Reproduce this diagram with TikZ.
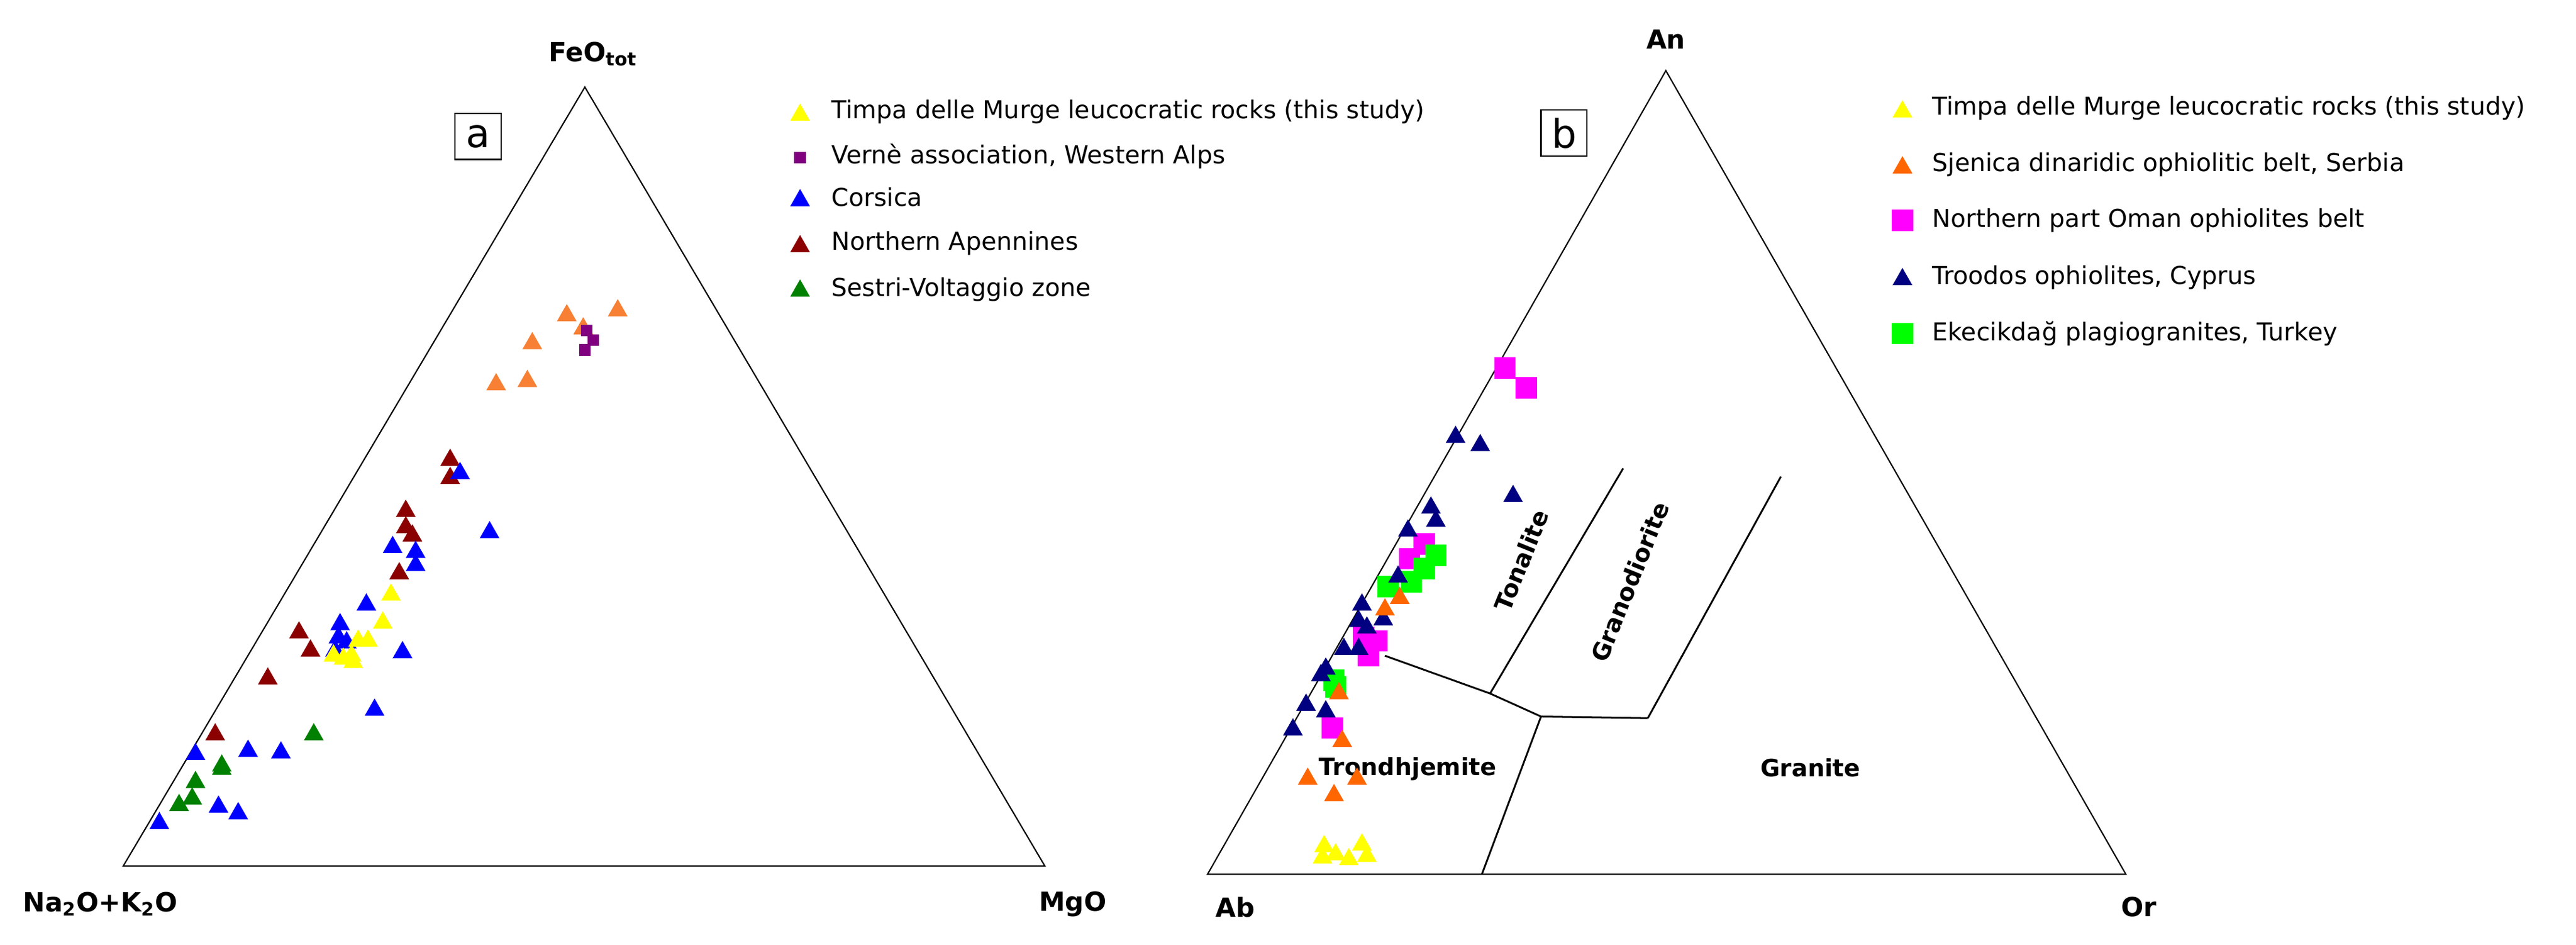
\documentclass[tikz,border=0pt]{standalone}
\usepackage{fontspec}
\setmainfont{DejaVu Sans}
\begin{document}
\begin{tikzpicture}[x=1pt,y=-1pt,
  tri/.style={line width=0.8pt},
  axlab/.style={font=\fontsize{16}{18}\selectfont\bfseries},
  leg/.style={anchor=west,font=\fontsize{15}{17}\selectfont,inner sep=0},
  field/.style={font=\fontsize{14.5}{16}\selectfont\bfseries},
  boxlab/.style={draw,line width=0.8pt,font=\fontsize{24}{26}\selectfont,inner sep=2pt,minimum width=28pt,minimum height=28pt}]
\definecolor{cyel}{RGB}{255,255,0}
\definecolor{cor}{RGB}{247,128,52}
\definecolor{cpur}{RGB}{128,0,128}
\definecolor{cblu}{RGB}{0,0,255}
\definecolor{cdr}{RGB}{139,0,0}
\definecolor{cgr}{RGB}{0,128,0}
\definecolor{csrb}{RGB}{255,102,0}
\definecolor{cmag}{RGB}{255,0,255}
\definecolor{cnav}{RGB}{0,0,128}
\definecolor{clim}{RGB}{0,255,0}
\useasboundingbox (0,0) rectangle (1568,575);
\fill[white] (0,0) rectangle (1568,575);
\newcommand\tri[3]{\fill[#1] (#2-6,#3+4.5) -- (#2+6,#3+4.5) -- (#2,#3-6) -- cycle;}
\newcommand\sqs[3]{\fill[#1] (#2-3.5,#3-3.5) rectangle (#2+3.5,#3+3.5);}
\newcommand\sqb[3]{\fill[#1] (#2-6.5,#3-6.5) rectangle (#2+6.5,#3+6.5);}
% ---------- panel a ----------
\coordinate (aA) at (75,527); \coordinate (aB) at (636,527); \coordinate (aC) at (356,53);
\draw[tri] (aA) -- (aB) -- (aC) -- cycle;
\node[axlab] (lfe) at (361,33) {FeO\textsubscript{tot}};
\node[axlab] (lna) at (61,550) {Na\textsubscript{2}O+K\textsubscript{2}O};
\node[axlab] (lmg) at (653,550) {MgO};
\node[boxlab] (ba) at (291,83) {a};
\foreach \x/\y in {345/191,355/199,376/188,324/208,302/233,321/231}{\tri{cor}{\x}{\y}}
\foreach \x/\y in {357/201,361/207,356/213}{\sqs{cpur}{\x}{\y}}
\foreach \x/\y in {274/279,274/290,247/310,247/320,251/325,243/348,182/384,189/395,163/412,131/446}{\tri{cdr}{\x}{\y}}
\foreach \x/\y in {280/287,298/323,239/332,253/335,253/343,223/367,207/379,206/387,211/390,204/395,245/396,228/431,119/458,151/456,171/457,133/490,145/494,97/500}{\tri{cblu}{\x}{\y}}
\foreach \x/\y in {238/361,233/378,224/389,218/389,214/398,209/400,203/398,215/402}{\tri{cyel}{\x}{\y}}
\foreach \x/\y in {191/446,135/465,135/467,119/475,117/485,109/489}{\tri{cgr}{\x}{\y}}
% legend a
\tri{cyel}{487}{69}
\sqs{cpur}{487}{96}
\tri{cblu}{487}{121}
\tri{cdr}{487}{149}
\tri{cgr}{487}{176}
\node[leg] (la1) at (506,68) {Timpa delle Murge leucocratic rocks (this study)};
\node[leg] (la2) at (506,95) {Vernè association, Western Alps};
\node[leg] (la3) at (506,120) {Corsica};
\node[leg] (la4) at (506,148) {Northern Apennines};
\node[leg] (la5) at (506,176) {Sestri-Voltaggio zone};
% ---------- panel b ----------
\coordinate (bA) at (735,532); \coordinate (bB) at (1294,532); \coordinate (bC) at (1014,43);
\draw[tri] (bA) -- (bB) -- (bC) -- cycle;
\node[axlab] (lan) at (1014,24) {An};
\node[axlab] (lab) at (752,552) {Ab};
\node[axlab] (lor) at (1302,552) {Or};
\node[boxlab] (bb) at (952,81) {b};
\coordinate (p1) at (843,399); \coordinate (p2) at (907,422); \coordinate (p3) at (938,436);
\coordinate (p4) at (1003,437); \coordinate (p5) at (988,285); \coordinate (p6) at (1084,290);
\coordinate (p7) at (902,532);
\draw[line width=1.1pt] (p1) -- (p2) -- (p3) -- (p4);
\draw[line width=1.1pt] (p2) -- (p5);
\draw[line width=1.1pt] (p4) -- (p6);
\draw[line width=1.1pt] (p3) -- (p7);
\node[field,rotate=68] (ton) at (926,341) {Tonalite};
\node[field,rotate=68] (gra) at (992,354) {Granodiorite};
\node[field] (tro) at (857,468) {Trondhjemite};
\node[field] (grn) at (1102,467) {Granite};
\foreach \x/\y in {916/224,929/236,867/331,858/340,830/388,838/390,833/399,811/443}{\sqb{cmag}{\x}{\y}}
\foreach \x/\y in {874/338,867/346,859/354,845/357,812/414,813/418}{\sqb{clim}{\x}{\y}}
\foreach \x/\y in {886/265,901/270,921/301,871/308,874/316,857/322,851/350,829/367,827/377,842/376,832/381,818/394,827/394,807/406,804/410,795/428,807/432,787/443}{\tri{cnav}{\x}{\y}}
\foreach \x/\y in {852/363,843/370,815/421,817/450,796/473,826/473,812/483}{\tri{csrb}{\x}{\y}}
\foreach \x/\y in {806/514,829/513,805/521,821/522,832/520,813/519}{\tri{cyel}{\x}{\y}}
% legend b
\tri{cyel}{1158}{67}
\tri{csrb}{1158}{101}
\sqb{cmag}{1158}{134}
\tri{cnav}{1158}{169}
\sqb{clim}{1158}{203}
\node[leg] (lb1) at (1176,66) {Timpa delle Murge leucocratic rocks (this study)};
\node[leg] (lb2) at (1176,100) {Sjenica dinaridic ophiolitic belt, Serbia};
\node[leg] (lb3) at (1176,134) {Northern part Oman ophiolites belt};
\node[leg] (lb4) at (1176,169) {Troodos ophiolites, Cyprus};
\node[leg] (lb5) at (1176,203) {Ekecikdağ plagiogranites, Turkey};
\end{tikzpicture}
\end{document}
